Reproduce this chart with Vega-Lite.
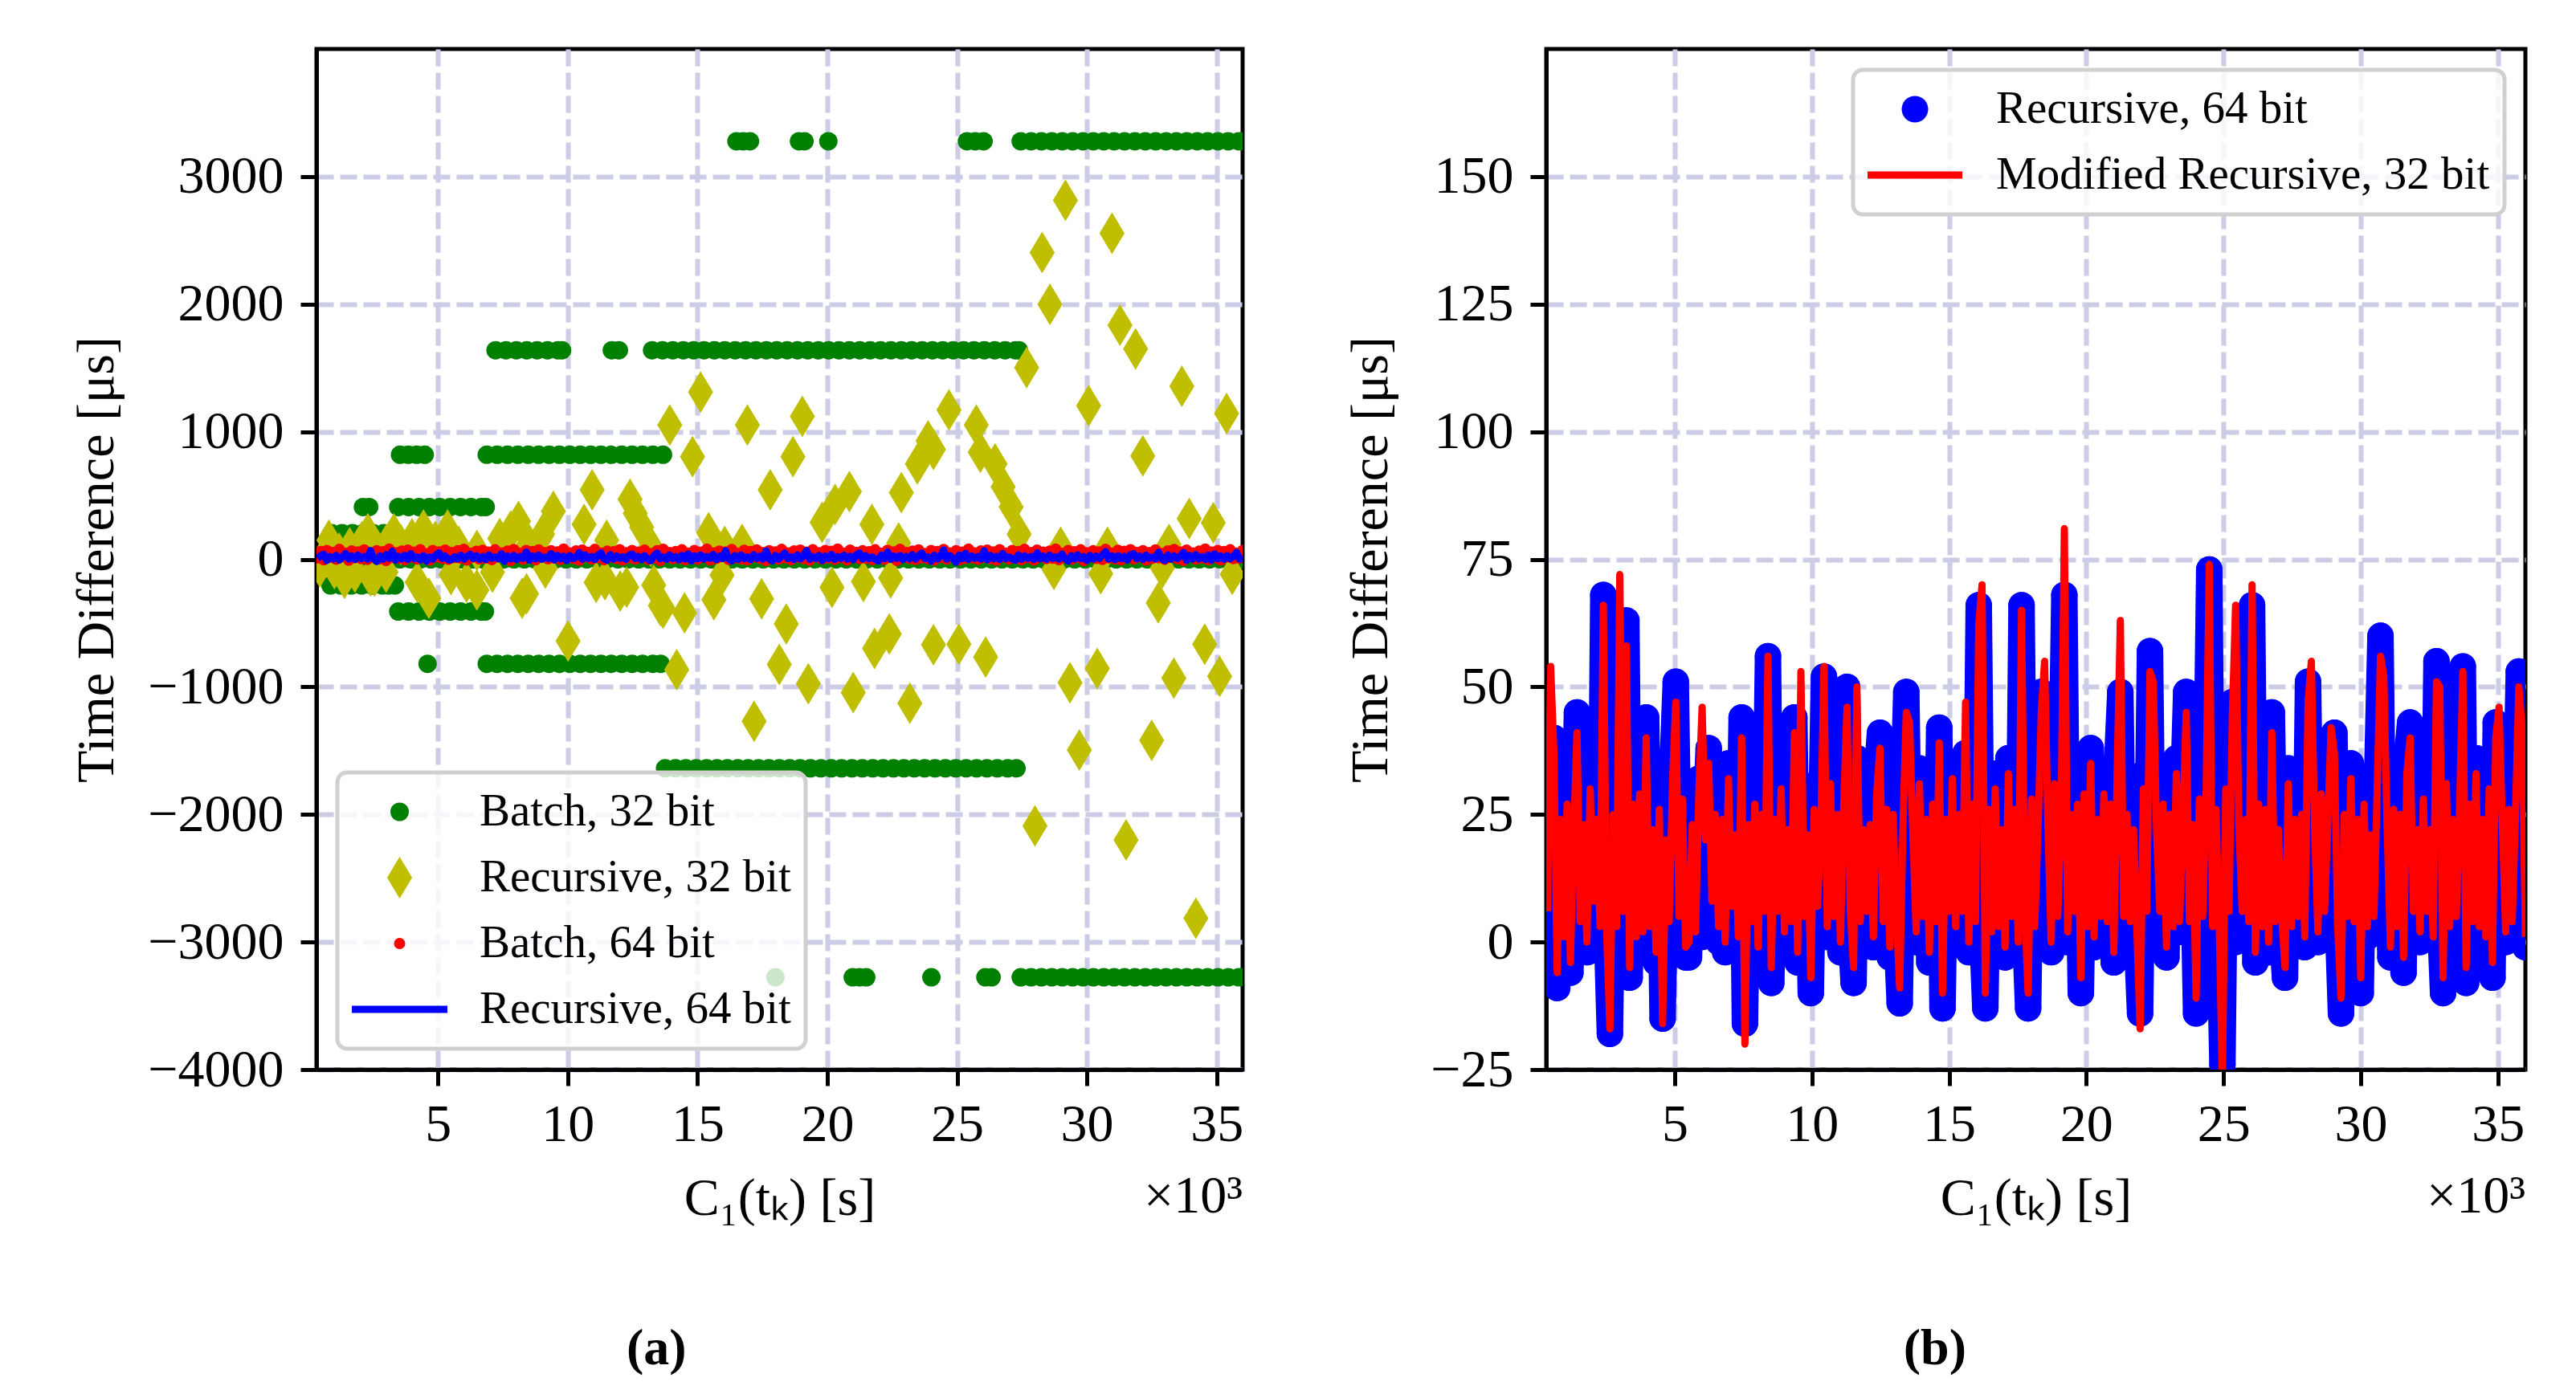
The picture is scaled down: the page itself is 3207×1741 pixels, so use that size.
{
"$schema": "https://vega.github.io/schema/vega-lite/v6.json",
"background": "white",
"padding": {"left": 84, "top": 58, "right": 20, "bottom": 20},
"spacing": 120,
"resolve": {"scale": {"color": "independent", "shape": "independent", "size": "independent"}, "legend": {"color": "independent", "shape": "independent", "size": "independent"}},
"config": {
  "font": "Liberation Serif",
  "view": {"stroke": "black", "strokeWidth": 5},
  "axis": {"labelFont": "Liberation Serif", "titleFont": "Liberation Serif", "labelFontSize": 66, "titleFontSize": 66, "titleFontWeight": "normal", "labelColor": "black", "titleColor": "black", "tickColor": "black", "tickWidth": 5, "tickSize": 20, "domain": true, "domainColor": "black", "domainWidth": 5, "grid": true, "gridColor": "#ccccE6", "gridDash": [21, 8], "gridWidth": 6, "labelFlush": false, "labelBound": false, "labelOverlap": false, "labelLimit": 0},
  "axisX": {"labelPadding": 16, "titlePadding": 27},
  "axisY": {"labelPadding": 21, "titlePadding": 40},
  "legend": {"labelFont": "Liberation Serif", "labelFontSize": 57, "labelColor": "black", "labelLimit": 0},
  "title": {"font": "Liberation Serif", "fontSize": 64, "fontWeight": "bold", "color": "black"}
},
"datasets": {
"g": [
{"x":16500,"y":3276.8},{"x":16760,"y":3276.8},{"x":17020,"y":3276.8},{"x":18910,"y":3276.8},{"x":19120,"y":3276.8},{"x":20040,"y":3276.8},{"x":25380,"y":3276.8},{"x":25700,"y":3276.8},{"x":26020,"y":3276.8},{"x":27450,"y":3276.8},{"x":27850,"y":3276.8},{"x":28250,"y":3276.8},{"x":28650,"y":3276.8},{"x":29050,"y":3276.8},{"x":29450,"y":3276.8},{"x":29850,"y":3276.8},{"x":30250,"y":3276.8},{"x":30650,"y":3276.8},{"x":31050,"y":3276.8},{"x":31450,"y":3276.8},{"x":31850,"y":3276.8},{"x":32250,"y":3276.8},{"x":32650,"y":3276.8},{"x":33050,"y":3276.8},{"x":33450,"y":3276.8},{"x":33850,"y":3276.8},{"x":34250,"y":3276.8},{"x":34650,"y":3276.8},{"x":35050,"y":3276.8},{"x":35450,"y":3276.8},{"x":35850,"y":3276.8},{"x":36000,"y":3276.8},
{"x":7220,"y":1638.4},{"x":7620,"y":1638.4},{"x":8020,"y":1638.4},{"x":8420,"y":1638.4},{"x":8820,"y":1638.4},{"x":9220,"y":1638.4},{"x":9620,"y":1638.4},{"x":9780,"y":1638.4},{"x":11700,"y":1638.4},{"x":11970,"y":1638.4},{"x":13250,"y":1638.4},{"x":13650,"y":1638.4},{"x":14050,"y":1638.4},{"x":14450,"y":1638.4},{"x":14850,"y":1638.4},{"x":15250,"y":1638.4},{"x":15650,"y":1638.4},{"x":16050,"y":1638.4},{"x":16450,"y":1638.4},{"x":16850,"y":1638.4},{"x":17250,"y":1638.4},{"x":17650,"y":1638.4},{"x":18050,"y":1638.4},{"x":18450,"y":1638.4},{"x":18850,"y":1638.4},{"x":19250,"y":1638.4},{"x":19650,"y":1638.4},{"x":20050,"y":1638.4},{"x":20450,"y":1638.4},{"x":20850,"y":1638.4},{"x":21250,"y":1638.4},{"x":21650,"y":1638.4},{"x":22050,"y":1638.4},{"x":22450,"y":1638.4},{"x":22850,"y":1638.4},{"x":23250,"y":1638.4},{"x":23650,"y":1638.4},{"x":24050,"y":1638.4},{"x":24450,"y":1638.4},{"x":24850,"y":1638.4},{"x":25250,"y":1638.4},{"x":25650,"y":1638.4},{"x":26050,"y":1638.4},{"x":26450,"y":1638.4},{"x":26850,"y":1638.4},{"x":27250,"y":1638.4},{"x":27380,"y":1638.4},
{"x":3540,"y":819.2},{"x":3860,"y":819.2},{"x":4180,"y":819.2},{"x":4490,"y":819.2},{"x":6880,"y":819.2},{"x":7280,"y":819.2},{"x":7680,"y":819.2},{"x":8080,"y":819.2},{"x":8480,"y":819.2},{"x":8880,"y":819.2},{"x":9280,"y":819.2},{"x":9680,"y":819.2},{"x":10080,"y":819.2},{"x":10480,"y":819.2},{"x":10880,"y":819.2},{"x":11280,"y":819.2},{"x":11680,"y":819.2},{"x":12080,"y":819.2},{"x":12480,"y":819.2},{"x":12880,"y":819.2},{"x":13280,"y":819.2},{"x":13670,"y":819.2},
{"x":2110,"y":409.6},{"x":2350,"y":409.6},{"x":3470,"y":409.6},{"x":3870,"y":409.6},{"x":4270,"y":409.6},{"x":4670,"y":409.6},{"x":5070,"y":409.6},{"x":5470,"y":409.6},{"x":5870,"y":409.6},{"x":6270,"y":409.6},{"x":6670,"y":409.6},{"x":6840,"y":409.6},
{"x":905,"y":204.8},{"x":1305,"y":204.8},{"x":1705,"y":204.8},{"x":2105,"y":204.8},{"x":2505,"y":204.8},{"x":2910,"y":204.8},
{"x":330,"y":0},{"x":730,"y":0},{"x":1130,"y":0},{"x":1530,"y":0},{"x":1930,"y":0},{"x":2330,"y":0},{"x":2730,"y":0},{"x":3130,"y":0},{"x":3530,"y":0},{"x":3930,"y":0},{"x":4330,"y":0},{"x":4730,"y":0},{"x":5130,"y":0},{"x":5530,"y":0},{"x":5930,"y":0},{"x":6330,"y":0},{"x":6730,"y":0},{"x":7130,"y":0},{"x":7530,"y":0},{"x":7930,"y":0},{"x":8330,"y":0},{"x":8730,"y":0},{"x":9130,"y":0},{"x":9530,"y":0},{"x":9930,"y":0},{"x":10330,"y":0},{"x":10730,"y":0},{"x":11130,"y":0},{"x":11530,"y":0},{"x":11930,"y":0},{"x":12330,"y":0},{"x":12730,"y":0},{"x":13130,"y":0},{"x":13530,"y":0},{"x":13930,"y":0},{"x":14330,"y":0},{"x":14730,"y":0},{"x":15130,"y":0},{"x":15530,"y":0},{"x":15930,"y":0},{"x":16330,"y":0},{"x":16730,"y":0},{"x":17130,"y":0},{"x":17530,"y":0},{"x":17930,"y":0},{"x":18330,"y":0},{"x":18730,"y":0},{"x":19130,"y":0},{"x":19530,"y":0},{"x":19930,"y":0},{"x":20330,"y":0},{"x":20730,"y":0},{"x":21130,"y":0},{"x":21530,"y":0},{"x":21930,"y":0},{"x":22330,"y":0},{"x":22730,"y":0},{"x":23130,"y":0},{"x":23530,"y":0},{"x":23930,"y":0},{"x":24330,"y":0},{"x":24730,"y":0},{"x":25130,"y":0},{"x":25530,"y":0},{"x":25930,"y":0},{"x":26330,"y":0},{"x":26730,"y":0},{"x":27130,"y":0},{"x":27530,"y":0},{"x":27930,"y":0},{"x":28330,"y":0},{"x":28730,"y":0},{"x":29130,"y":0},{"x":29530,"y":0},{"x":29930,"y":0},{"x":30330,"y":0},{"x":30730,"y":0},{"x":31130,"y":0},{"x":31530,"y":0},{"x":31930,"y":0},{"x":32330,"y":0},{"x":32730,"y":0},{"x":33130,"y":0},{"x":33530,"y":0},{"x":33930,"y":0},{"x":34330,"y":0},{"x":34730,"y":0},{"x":35130,"y":0},{"x":35530,"y":0},{"x":35930,"y":0},{"x":36000,"y":0},
{"x":860,"y":-204.8},{"x":1260,"y":-204.8},{"x":1660,"y":-204.8},{"x":2060,"y":-204.8},{"x":2460,"y":-204.8},{"x":2860,"y":-204.8},{"x":3100,"y":-204.8},{"x":3340,"y":-204.8},
{"x":3470,"y":-409.6},{"x":3870,"y":-409.6},{"x":4270,"y":-409.6},{"x":4670,"y":-409.6},{"x":5070,"y":-409.6},{"x":5470,"y":-409.6},{"x":5870,"y":-409.6},{"x":6270,"y":-409.6},{"x":6670,"y":-409.6},{"x":6810,"y":-409.6},
{"x":4600,"y":-819.2},{"x":6880,"y":-819.2},{"x":7280,"y":-819.2},{"x":7680,"y":-819.2},{"x":8080,"y":-819.2},{"x":8480,"y":-819.2},{"x":8880,"y":-819.2},{"x":9280,"y":-819.2},{"x":9680,"y":-819.2},{"x":10080,"y":-819.2},{"x":10480,"y":-819.2},{"x":10880,"y":-819.2},{"x":11280,"y":-819.2},{"x":11680,"y":-819.2},{"x":12080,"y":-819.2},{"x":12480,"y":-819.2},{"x":12880,"y":-819.2},{"x":13280,"y":-819.2},{"x":13580,"y":-819.2},
{"x":13750,"y":-1638.4},{"x":14150,"y":-1638.4},{"x":14550,"y":-1638.4},{"x":14950,"y":-1638.4},{"x":15350,"y":-1638.4},{"x":15750,"y":-1638.4},{"x":16150,"y":-1638.4},{"x":16550,"y":-1638.4},{"x":16950,"y":-1638.4},{"x":17350,"y":-1638.4},{"x":17750,"y":-1638.4},{"x":18150,"y":-1638.4},{"x":18550,"y":-1638.4},{"x":18950,"y":-1638.4},{"x":19350,"y":-1638.4},{"x":19750,"y":-1638.4},{"x":20150,"y":-1638.4},{"x":20550,"y":-1638.4},{"x":20950,"y":-1638.4},{"x":21350,"y":-1638.4},{"x":21750,"y":-1638.4},{"x":22150,"y":-1638.4},{"x":22550,"y":-1638.4},{"x":22950,"y":-1638.4},{"x":23350,"y":-1638.4},{"x":23750,"y":-1638.4},{"x":24150,"y":-1638.4},{"x":24550,"y":-1638.4},{"x":24950,"y":-1638.4},{"x":25350,"y":-1638.4},{"x":25750,"y":-1638.4},{"x":26150,"y":-1638.4},{"x":26550,"y":-1638.4},{"x":26950,"y":-1638.4},{"x":27290,"y":-1638.4},
{"x":18000,"y":-3276.8},{"x":20980,"y":-3276.8},{"x":21240,"y":-3276.8},{"x":21500,"y":-3276.8},{"x":24010,"y":-3276.8},{"x":26090,"y":-3276.8},{"x":26330,"y":-3276.8},{"x":27450,"y":-3276.8},{"x":27850,"y":-3276.8},{"x":28250,"y":-3276.8},{"x":28650,"y":-3276.8},{"x":29050,"y":-3276.8},{"x":29450,"y":-3276.8},{"x":29850,"y":-3276.8},{"x":30250,"y":-3276.8},{"x":30650,"y":-3276.8},{"x":31050,"y":-3276.8},{"x":31450,"y":-3276.8},{"x":31850,"y":-3276.8},{"x":32250,"y":-3276.8},{"x":32650,"y":-3276.8},{"x":33050,"y":-3276.8},{"x":33450,"y":-3276.8},{"x":33850,"y":-3276.8},{"x":34250,"y":-3276.8},{"x":34650,"y":-3276.8},{"x":35050,"y":-3276.8},{"x":35450,"y":-3276.8},{"x":35850,"y":-3276.8},{"x":36000,"y":-3276.8}
],
"d": [
{"x":600,"y":20},{"x":450,"y":-60},{"x":800,"y":150},{"x":1010,"y":-74},{"x":1194,"y":49},{"x":1400,"y":-150},{"x":1600,"y":90},{"x":1800,"y":-100},{"x":2070,"y":139},{"x":2300,"y":200},{"x":2400,"y":-130},{"x":2556,"y":-132},{"x":2700,"y":60},{"x":2741,"y":-44},{"x":3000,"y":110},{"x":3000,"y":-100},{"x":3300,"y":200},{"x":3567,"y":117},{"x":4000,"y":160},{"x":4200,"y":-180},{"x":4443,"y":230},{"x":4650,"y":-305},{"x":4900,"y":140},{"x":5371,"y":230},{"x":5500,"y":-120},{"x":5800,"y":100},{"x":6100,"y":-180},{"x":6500,"y":-240},{"x":6500,"y":70},{"x":7100,"y":-100},{"x":7382,"y":162},{"x":7800,"y":220},{"x":8104,"y":297},{"x":8242,"y":-305},{"x":8413,"y":-271},{"x":8500,"y":120},{"x":9032,"y":196},{"x":9136,"y":-69},{"x":9446,"y":376},{"x":10012,"y":-640},{"x":10630,"y":274},{"x":10940,"y":545},{"x":11095,"y":-181},{"x":11435,"y":-161},{"x":11500,"y":150},{"x":12023,"y":-248},{"x":12271,"y":-218},{"x":12400,"y":470},{"x":12600,"y":360},{"x":12849,"y":252},{"x":13200,"y":100},{"x":13313,"y":-203},{"x":13570,"y":-363},{"x":13673,"y":-384},{"x":13932,"y":1052},{"x":14200,"y":-865},{"x":14500,"y":-420},{"x":14808,"y":804},{"x":15117,"y":1311},{"x":15427,"y":207},{"x":15630,"y":-318},{"x":15943,"y":-124},{"x":16046,"y":100},{"x":16716,"y":117},{"x":16921,"y":1052},{"x":17180,"y":-1270},{"x":17470,"y":-310},{"x":17800,"y":545},{"x":18150,"y":-825},{"x":18418,"y":-507},{"x":18676,"y":804},{"x":19038,"y":1120},{"x":19270,"y":-975},{"x":19800,"y":290},{"x":20180,"y":-220},{"x":20300,"y":430},{"x":20850,"y":530},{"x":21000,"y":-1045},{"x":21390,"y":-175},{"x":21717,"y":274},{"x":21820,"y":-699},{"x":22388,"y":-586},{"x":22440,"y":-147},{"x":22749,"y":128},{"x":22852,"y":522},{"x":23180,"y":-1128},{"x":23471,"y":748},{"x":23883,"y":928},{"x":24090,"y":-670},{"x":24090,"y":861},{"x":24687,"y":1171},{"x":25070,"y":-665},{"x":25740,"y":1052},{"x":25894,"y":838},{"x":26100,"y":-766},{"x":26463,"y":748},{"x":26772,"y":568},{"x":27082,"y":410},{"x":27391,"y":196},{"x":27679,"y":1502},{"x":28000,"y":-2090},{"x":28277,"y":2404},{"x":28577,"y":1998},{"x":28730,"y":-79},{"x":28990,"y":95},{"x":29174,"y":2814},{"x":29350,"y":-968},{"x":29710,"y":-1495},{"x":30070,"y":1203},{"x":30400,"y":-856},{"x":30535,"y":-113},{"x":30795,"y":95},{"x":30968,"y":2555},{"x":31277,"y":1834},{"x":31510,"y":-2200},{"x":31877,"y":1649},{"x":32155,"y":811},{"x":32497,"y":-1420},{"x":32750,"y":-342},{"x":32908,"y":-68},{"x":33165,"y":117},{"x":33350,"y":-931},{"x":33660,"y":1357},{"x":33942,"y":320},{"x":34200,"y":-2813},{"x":34540,"y":-665},{"x":34870,"y":286},{"x":35115,"y":-918},{"x":35383,"y":1143},{"x":35600,"y":-118}
],
"ts": [
{"x":360,"b":5,"r":6,"c":10},{"x":480,"b":28,"r":54,"c":62},{"x":600,"b":40,"r":37,"c":-5},{"x":720,"b":-9,"r":-6,"c":70},{"x":840,"b":22,"r":24,"c":15},{"x":960,"b":3,"r":1,"c":55},{"x":1080,"b":30,"r":27,"c":0},{"x":1200,"b":-6,"r":-4,"c":78},{"x":1320,"b":18,"r":21,"c":20},{"x":1440,"b":45,"r":41,"c":48},
{"x":1560,"b":2,"r":4,"c":-8},{"x":1680,"b":26,"r":23,"c":66},{"x":1800,"b":-2,"r":0,"c":12},{"x":1920,"b":33,"r":30,"c":58},{"x":2040,"b":6,"r":8,"c":5},{"x":2160,"b":21,"r":24,"c":74},{"x":2280,"b":1,"r":3,"c":-2},{"x":2400,"b":68,"r":66,"c":50},{"x":2520,"b":4,"r":2,"c":18},{"x":2640,"b":-18,"r":-17,"c":68},
{"x":2760,"b":27,"r":25,"c":3},{"x":2880,"b":0,"r":3,"c":60},{"x":3000,"b":36,"r":72,"c":-10},{"x":3120,"b":8,"r":6,"c":80},{"x":3240,"b":63,"r":58,"c":14},{"x":3360,"b":-7,"r":-5,"c":52},{"x":3480,"b":24,"r":27,"c":7},{"x":3600,"b":3,"r":1,"c":64},{"x":3720,"b":31,"r":29,"c":-4},{"x":3840,"b":-1,"r":2,"c":72},
{"x":3960,"b":44,"r":40,"c":16},{"x":4080,"b":5,"r":3,"c":56},{"x":4200,"b":19,"r":22,"c":1},{"x":4320,"b":-4,"r":-2,"c":76},{"x":4440,"b":29,"r":26,"c":11},{"x":4560,"b":-15,"r":-16,"c":46},{"x":4680,"b":17,"r":20,"c":-6},{"x":4800,"b":2,"r":4,"c":69},{"x":4920,"b":34,"r":31,"c":19},{"x":5040,"b":51,"r":47,"c":59},
{"x":5160,"b":7,"r":5,"c":4},{"x":5280,"b":25,"r":28,"c":73},{"x":5400,"b":-3,"r":-1,"c":-1},{"x":5520,"b":-3,"r":0,"c":53},{"x":5640,"b":20,"r":23,"c":13},{"x":5760,"b":4,"r":2,"c":67},{"x":5880,"b":32,"r":29,"c":8},{"x":6000,"b":1,"r":46,"c":79},{"x":6120,"b":23,"r":20,"c":-7},{"x":6240,"b":38,"r":35,"c":49},
{"x":6360,"b":6,"r":8,"c":17},{"x":6480,"b":28,"r":25,"c":63},{"x":6600,"b":0,"r":3,"c":2},{"x":6720,"b":21,"r":24,"c":71},{"x":6840,"b":-2,"r":0,"c":9},{"x":6960,"b":35,"r":32,"c":57},{"x":7080,"b":9,"r":7,"c":-3},{"x":7200,"b":18,"r":21,"c":75},{"x":7320,"b":3,"r":1,"c":21},{"x":7440,"b":44,"r":40,"c":51},
{"x":7560,"b":-16,"r":-20,"c":6},{"x":7680,"b":26,"r":23,"c":65},{"x":7800,"b":2,"r":4,"c":-9},{"x":7920,"b":30,"r":27,"c":77},{"x":8040,"b":-3,"r":-1,"c":15},{"x":8160,"b":22,"r":25,"c":47},{"x":8280,"b":8,"r":6,"c":0},{"x":8400,"b":56,"r":56,"c":70},{"x":8520,"b":-8,"r":-5,"c":12},{"x":8640,"b":27,"r":24,"c":61},
{"x":8760,"b":4,"r":6,"c":-5},{"x":8880,"b":33,"r":30,"c":74},{"x":9000,"b":0,"r":2,"c":18},{"x":9120,"b":19,"r":22,"c":54},{"x":9240,"b":6,"r":4,"c":3},{"x":9360,"b":44,"r":41,"c":68},{"x":9480,"b":-4,"r":-2,"c":10},{"x":9600,"b":31,"r":53,"c":58},{"x":9720,"b":3,"r":5,"c":-2},{"x":9840,"b":24,"r":21,"c":81},
{"x":9960,"b":-10,"r":-7,"c":14},{"x":10080,"b":29,"r":26,"c":50},{"x":10200,"b":5,"r":7,"c":7},{"x":10320,"b":17,"r":20,"c":66},{"x":10440,"b":52,"r":54,"c":-8},{"x":10560,"b":1,"r":3,"c":72},{"x":10680,"b":34,"r":31,"c":20},{"x":10800,"b":7,"r":5,"c":55},{"x":10920,"b":22,"r":25,"c":1},{"x":11040,"b":-2,"r":0,"c":78},
{"x":11160,"b":30,"r":27,"c":11},{"x":11280,"b":50,"r":46,"c":48},{"x":11400,"b":4,"r":6,"c":-4},{"x":11520,"b":-8,"r":-5,"c":64},{"x":11640,"b":36,"r":50,"c":16},{"x":11760,"b":2,"r":4,"c":60},{"x":11880,"b":25,"r":22,"c":5},{"x":12000,"b":8,"r":6,"c":76},{"x":12120,"b":20,"r":23,"c":-6},{"x":12240,"b":-1,"r":1,"c":52},
{"x":12360,"b":32,"r":29,"c":13},{"x":12480,"b":41,"r":38,"c":69},{"x":12600,"b":6,"r":4,"c":2},{"x":12720,"b":23,"r":26,"c":57},{"x":12840,"b":-3,"r":-1,"c":19},{"x":12960,"b":28,"r":25,"c":73},{"x":13080,"b":3,"r":5,"c":-1},{"x":13200,"b":-12,"r":-9,"c":46},{"x":13320,"b":26,"r":23,"c":9},{"x":13440,"b":49,"r":45,"c":67},
{"x":13560,"b":5,"r":43,"c":-10},{"x":13680,"b":18,"r":21,"c":79},{"x":13800,"b":0,"r":2,"c":17},{"x":13920,"b":34,"r":31,"c":53},{"x":14040,"b":7,"r":5,"c":4},{"x":14160,"b":21,"r":24,"c":62},{"x":14280,"b":-4,"r":-2,"c":8},{"x":14400,"b":30,"r":27,"c":75},{"x":14520,"b":2,"r":4,"c":-3},{"x":14640,"b":42,"r":39,"c":49},
{"x":14760,"b":-13,"r":-10,"c":12},{"x":14880,"b":27,"r":24,"c":70},{"x":15000,"b":4,"r":6,"c":0},{"x":15120,"b":35,"r":32,"c":56},{"x":15240,"b":1,"r":3,"c":15},{"x":15360,"b":22,"r":25,"c":80},{"x":15480,"b":8,"r":6,"c":-7},{"x":15600,"b":37,"r":47,"c":51},{"x":15720,"b":-2,"r":0,"c":6},{"x":15840,"b":24,"r":27,"c":65},
{"x":15960,"b":6,"r":4,"c":21},{"x":16080,"b":66,"r":62,"c":58},{"x":16200,"b":3,"r":70,"c":-2},{"x":16320,"b":-13,"r":-10,"c":77},{"x":16440,"b":29,"r":26,"c":10},{"x":16560,"b":0,"r":2,"c":47},{"x":16680,"b":33,"r":30,"c":3},{"x":16800,"b":5,"r":3,"c":71},{"x":16920,"b":19,"r":22,"c":-5},{"x":17040,"b":-3,"r":-1,"c":61},
{"x":17160,"b":36,"r":33,"c":18},{"x":17280,"b":7,"r":5,"c":74},{"x":17400,"b":23,"r":26,"c":7},{"x":17520,"b":2,"r":0,"c":54},{"x":17640,"b":66,"r":65,"c":-9},{"x":17760,"b":4,"r":6,"c":68},{"x":17880,"b":-13,"r":-10,"c":14},{"x":18000,"b":31,"r":28,"c":59},{"x":18120,"b":1,"r":3,"c":1},{"x":18240,"b":25,"r":22,"c":78},
{"x":18360,"b":49,"r":45,"c":11},{"x":18480,"b":6,"r":55,"c":50},{"x":18600,"b":20,"r":23,"c":-4},{"x":18720,"b":-2,"r":0,"c":66},{"x":18840,"b":34,"r":31,"c":16},{"x":18960,"b":3,"r":5,"c":72},{"x":19080,"b":27,"r":24,"c":5},{"x":19200,"b":68,"r":81,"c":57},{"x":19320,"b":0,"r":2,"c":-8},{"x":19440,"b":22,"r":25,"c":76},
{"x":19560,"b":8,"r":6,"c":20},{"x":19680,"b":30,"r":27,"c":52},{"x":19800,"b":-10,"r":-7,"c":2},{"x":19920,"b":26,"r":29,"c":69},{"x":20040,"b":5,"r":3,"c":9},{"x":20160,"b":38,"r":35,"c":63},{"x":20280,"b":-1,"r":1,"c":-1},{"x":20400,"b":21,"r":24,"c":80},{"x":20520,"b":7,"r":5,"c":13},{"x":20640,"b":32,"r":29,"c":48},
{"x":20760,"b":2,"r":4,"c":-6},{"x":20880,"b":24,"r":27,"c":73},{"x":21000,"b":-4,"r":-2,"c":17},{"x":21120,"b":35,"r":32,"c":55},{"x":21240,"b":49,"r":63,"c":4},{"x":21360,"b":3,"r":5,"c":67},{"x":21480,"b":28,"r":25,"c":8},{"x":21600,"b":6,"r":4,"c":60},{"x":21720,"b":19,"r":22,"c":-3},{"x":21840,"b":1,"r":3,"c":75},
{"x":21960,"b":-14,"r":-17,"c":12},{"x":22080,"b":33,"r":30,"c":49},{"x":22200,"b":4,"r":6,"c":0},{"x":22320,"b":57,"r":53,"c":71},{"x":22440,"b":0,"r":51,"c":15},{"x":22560,"b":25,"r":22,"c":58},{"x":22680,"b":8,"r":6,"c":-10},{"x":22800,"b":30,"r":27,"c":79},{"x":22920,"b":-3,"r":-1,"c":19},{"x":23040,"b":22,"r":25,"c":53},
{"x":23160,"b":5,"r":3,"c":6},{"x":23280,"b":36,"r":33,"c":64},{"x":23400,"b":2,"r":4,"c":-2},{"x":23520,"b":27,"r":24,"c":74},{"x":23640,"b":49,"r":45,"c":10},{"x":23760,"b":6,"r":4,"c":46},{"x":23880,"b":20,"r":23,"c":3},{"x":24000,"b":-14,"r":-11,"c":70},{"x":24120,"b":31,"r":28,"c":-7},{"x":24240,"b":3,"r":5,"c":62},
{"x":24360,"b":24,"r":27,"c":14},{"x":24480,"b":73,"r":74,"c":77},{"x":24600,"b":1,"r":3,"c":1},{"x":24720,"b":29,"r":26,"c":51},{"x":24840,"b":7,"r":5,"c":18},{"x":24960,"b":-24,"r":-28,"c":68},{"x":25080,"b":33,"r":30,"c":-5},{"x":25200,"b":4,"r":6,"c":56},{"x":25320,"b":47,"r":44,"c":7},{"x":25440,"b":0,"r":66,"c":81},
{"x":25560,"b":26,"r":23,"c":11},{"x":25680,"b":8,"r":6,"c":50},{"x":25800,"b":21,"r":24,"c":-1},{"x":25920,"b":2,"r":4,"c":66},{"x":26040,"b":66,"r":70,"c":16},{"x":26160,"b":-4,"r":-2,"c":73},{"x":26280,"b":30,"r":27,"c":5},{"x":26400,"b":5,"r":3,"c":59},{"x":26520,"b":23,"r":26,"c":-8},{"x":26640,"b":-2,"r":0,"c":76},
{"x":26760,"b":45,"r":41,"c":20},{"x":26880,"b":6,"r":4,"c":48},{"x":27000,"b":19,"r":22,"c":2},{"x":27120,"b":3,"r":5,"c":69},{"x":27240,"b":-7,"r":-5,"c":9},{"x":27360,"b":34,"r":31,"c":61},{"x":27480,"b":1,"r":3,"c":-4},{"x":27600,"b":27,"r":24,"c":78},{"x":27720,"b":7,"r":5,"c":13},{"x":27840,"b":22,"r":25,"c":54},
{"x":27960,"b":-1,"r":1,"c":-6},{"x":28080,"b":51,"r":47,"c":72},{"x":28200,"b":4,"r":55,"c":17},{"x":28320,"b":25,"r":22,"c":57},{"x":28440,"b":0,"r":2,"c":4},{"x":28560,"b":32,"r":29,"c":65},{"x":28680,"b":8,"r":6,"c":8},{"x":28800,"b":20,"r":23,"c":80},{"x":28920,"b":2,"r":42,"c":-3},{"x":29040,"b":41,"r":37,"c":47},
{"x":29160,"b":5,"r":3,"c":12},{"x":29280,"b":-14,"r":-11,"c":70},{"x":29400,"b":28,"r":25,"c":0},{"x":29520,"b":3,"r":5,"c":60},{"x":29640,"b":35,"r":32,"c":15},{"x":29760,"b":6,"r":4,"c":75},{"x":29880,"b":21,"r":24,"c":-9},{"x":30000,"b":-10,"r":-7,"c":52},{"x":30120,"b":30,"r":27,"c":19},{"x":30240,"b":1,"r":3,"c":67},
{"x":30360,"b":24,"r":21,"c":6},{"x":30480,"b":7,"r":5,"c":58},{"x":30600,"b":33,"r":30,"c":-2},{"x":30720,"b":60,"r":56,"c":79},{"x":30840,"b":2,"r":52,"c":10},{"x":30960,"b":26,"r":23,"c":49},{"x":31080,"b":-3,"r":-1,"c":3},{"x":31200,"b":29,"r":26,"c":71},{"x":31320,"b":5,"r":3,"c":-5},{"x":31440,"b":22,"r":25,"c":63},
{"x":31560,"b":-6,"r":-3,"c":14},{"x":31680,"b":36,"r":33,"c":76},{"x":31800,"b":43,"r":40,"c":1},{"x":31920,"b":4,"r":6,"c":55},{"x":32040,"b":25,"r":22,"c":18},{"x":32160,"b":0,"r":2,"c":68},{"x":32280,"b":31,"r":28,"c":-7},{"x":32400,"b":8,"r":6,"c":53},{"x":32520,"b":19,"r":22,"c":7},{"x":32640,"b":3,"r":1,"c":74},
{"x":32760,"b":55,"r":51,"c":11},{"x":32880,"b":6,"r":50,"c":46},{"x":33000,"b":-10,"r":-7,"c":-1},{"x":33120,"b":34,"r":31,"c":66},{"x":33240,"b":1,"r":3,"c":16},{"x":33360,"b":27,"r":24,"c":77},{"x":33480,"b":7,"r":5,"c":5},{"x":33600,"b":23,"r":26,"c":59},{"x":33720,"b":54,"r":53,"c":-10},{"x":33840,"b":-8,"r":-5,"c":72},
{"x":33960,"b":30,"r":27,"c":20},{"x":34080,"b":2,"r":4,"c":50},{"x":34200,"b":36,"r":33,"c":2},{"x":34320,"b":5,"r":3,"c":64},{"x":34440,"b":21,"r":24,"c":9},{"x":34560,"b":-1,"r":1,"c":80},{"x":34680,"b":33,"r":30,"c":-4},{"x":34800,"b":-7,"r":-4,"c":56},{"x":34920,"b":43,"r":40,"c":13},{"x":35040,"b":4,"r":46,"c":69},
{"x":35160,"b":26,"r":23,"c":-6},{"x":35280,"b":0,"r":2,"c":61},{"x":35400,"b":29,"r":26,"c":17},{"x":35520,"b":6,"r":4,"c":75},{"x":35640,"b":22,"r":25,"c":4},{"x":35760,"b":53,"r":50,"c":48},{"x":35880,"b":3,"r":42,"c":8},{"x":36000,"b":-1,"r":1,"c":70}
]
},
"hconcat": [
{
  "width": 1153, "height": 1271,
  "title": {"text": "(a)", "orient": "bottom", "anchor": "middle", "frame": "bounds", "offset": 123},
  "layer": [
    {"data": {"name": "g"},
     "mark": {"type": "point", "filled": true, "opacity": 1, "strokeWidth": 0, "clip": true},
     "encoding": {
       "x": {"field": "x", "type": "quantitative", "title": "C₁(tₖ) [s]", "scale": {"domain": [320, 36000], "nice": false, "zero": false}, "axis": {"values": [5000, 10000, 15000, 20000, 25000, 30000, 35000], "labelExpr": "datum.value / 1000"}},
       "y": {"field": "y", "type": "quantitative", "title": "Time Difference [μs]", "scale": {"domain": [-4000, 4000], "nice": false, "zero": false}, "axis": {"values": [-4000, -3000, -2000, -1000, 0, 1000, 2000, 3000], "format": "d"}},
       "color": {"datum": "Batch, 32 bit", "type": "nominal",
         "scale": {"domain": ["Batch, 32 bit", "Recursive, 32 bit", "Batch, 64 bit", "Recursive, 64 bit"], "range": ["#008000", "#bfbf00", "#ff0000", "#0000ff"]},
         "legend": {"title": null, "orient": "bottom-left", "offset": 26, "clipHeight": 62, "rowPadding": 20, "labelOffset": 40, "padding": 18, "fillColor": "rgba(255,255,255,0.8)", "strokeColor": "#d0d0d0", "cornerRadius": 12, "symbolOpacity": 1, "symbolStrokeWidth": 0, "encode": {"legend": {"update": {"strokeWidth": {"value": 5}}}}}},
       "shape": {"datum": "Batch, 32 bit", "type": "nominal",
         "scale": {"domain": ["Batch, 32 bit", "Recursive, 32 bit", "Batch, 64 bit", "Recursive, 64 bit"], "range": ["circle", "M0,-1L0.6,0L0,1L-0.6,0Z", "circle", "M-1,-0.076L1,-0.076L1,0.076L-1,0.076Z"]},
         "legend": {"title": null, "orient": "bottom-left", "offset": 26, "clipHeight": 62, "rowPadding": 20, "labelOffset": 40, "padding": 18, "fillColor": "rgba(255,255,255,0.8)", "strokeColor": "#d0d0d0", "cornerRadius": 12, "symbolOpacity": 1, "symbolStrokeWidth": 0, "encode": {"legend": {"update": {"strokeWidth": {"value": 5}}}}}},
       "size": {"datum": "Batch, 32 bit", "type": "nominal",
         "scale": {"type": "ordinal", "domain": ["Batch, 32 bit", "Recursive, 32 bit", "Batch, 64 bit", "Recursive, 64 bit"], "range": [529, 2704, 196, 14161]},
         "legend": {"title": null, "orient": "bottom-left", "offset": 26, "clipHeight": 62, "rowPadding": 20, "labelOffset": 40, "padding": 18, "fillColor": "rgba(255,255,255,0.8)", "strokeColor": "#d0d0d0", "cornerRadius": 12, "symbolOpacity": 1, "symbolStrokeWidth": 0, "encode": {"legend": {"update": {"strokeWidth": {"value": 5}}}}}}
     }},
    {"data": {"name": "d"},
     "mark": {"type": "point", "filled": true, "opacity": 1, "strokeWidth": 0, "clip": true, "color": "#bfbf00", "shape": "M0,-1L0.6,0L0,1L-0.6,0Z", "size": 2704},
     "encoding": {
       "x": {"field": "x", "type": "quantitative", "title": "C₁(tₖ) [s]"},
       "y": {"field": "y", "type": "quantitative", "title": "Time Difference [μs]"}
     }},
    {"data": {"name": "ts"},
     "mark": {"type": "point", "filled": true, "opacity": 1, "strokeWidth": 0, "clip": true, "color": "#ff0000", "shape": "circle", "size": 196},
     "encoding": {
       "x": {"field": "x", "type": "quantitative", "title": "C₁(tₖ) [s]"},
       "y": {"field": "c", "type": "quantitative", "title": "Time Difference [μs]"}
     }},
    {"data": {"name": "ts"},
     "mark": {"type": "line", "color": "#0000ff", "strokeWidth": 9, "strokeJoin": "round", "clip": true},
     "encoding": {
       "x": {"field": "x", "type": "quantitative", "title": "C₁(tₖ) [s]"},
       "y": {"field": "b", "type": "quantitative", "title": "Time Difference [μs]"}
     }},
    {"data": {"values": [{"t": "×10³"}]},
     "mark": {"type": "text", "align": "right", "baseline": "alphabetic", "dy": 178, "fontSize": 66, "font": "Liberation Serif", "color": "black"},
     "encoding": {
       "x": {"datum": 36000, "type": "quantitative", "title": "C₁(tₖ) [s]"},
       "y": {"datum": -4000, "type": "quantitative", "title": "Time Difference [μs]"},
       "text": {"field": "t"}
     }}
  ]
},
{
  "width": 1219, "height": 1271,
  "title": {"text": "(b)", "orient": "bottom", "anchor": "middle", "frame": "bounds", "offset": 123},
  "layer": [
    {"data": {"name": "ts"},
     "mark": {"type": "line", "color": "#0000ff", "strokeWidth": 33, "strokeJoin": "round", "strokeCap": "round", "clip": true},
     "encoding": {
       "x": {"field": "x", "type": "quantitative", "title": "C₁(tₖ) [s]", "scale": {"domain": [320, 36000], "nice": false, "zero": false}, "axis": {"values": [5000, 10000, 15000, 20000, 25000, 30000, 35000], "labelExpr": "datum.value / 1000"}},
       "y": {"field": "b", "type": "quantitative", "title": "Time Difference [μs]", "scale": {"domain": [-25, 175], "nice": false, "zero": false}, "axis": {"values": [-25, 0, 25, 50, 75, 100, 125, 150], "format": "d"}}
     }},
    {"data": {"name": "ts"},
     "mark": {"type": "point", "filled": true, "opacity": 1, "strokeWidth": 0, "clip": true},
     "encoding": {
       "x": {"field": "x", "type": "quantitative", "title": "C₁(tₖ) [s]"},
       "y": {"field": "b", "type": "quantitative", "title": "Time Difference [μs]"},
       "color": {"datum": "Recursive, 64 bit", "type": "nominal",
         "scale": {"domain": ["Recursive, 64 bit", "Modified Recursive, 32 bit"], "range": ["#0000ff", "#ff0000"]},
         "legend": {"title": null, "orient": "top-right", "offset": 26, "clipHeight": 62, "rowPadding": 20, "labelOffset": 42, "padding": 18, "fillColor": "rgba(255,255,255,0.8)", "strokeColor": "#d0d0d0", "cornerRadius": 12, "symbolOpacity": 1, "symbolStrokeWidth": 0, "encode": {"legend": {"update": {"strokeWidth": {"value": 5}}}}}},
       "shape": {"datum": "Recursive, 64 bit", "type": "nominal",
         "scale": {"domain": ["Recursive, 64 bit", "Modified Recursive, 32 bit"], "range": ["circle", "M-1,-0.076L1,-0.076L1,0.076L-1,0.076Z"]},
         "legend": {"title": null, "orient": "top-right", "offset": 26, "clipHeight": 62, "rowPadding": 20, "labelOffset": 42, "padding": 18, "fillColor": "rgba(255,255,255,0.8)", "strokeColor": "#d0d0d0", "cornerRadius": 12, "symbolOpacity": 1, "symbolStrokeWidth": 0, "encode": {"legend": {"update": {"strokeWidth": {"value": 5}}}}}},
       "size": {"datum": "Recursive, 64 bit", "type": "nominal",
         "scale": {"type": "ordinal", "domain": ["Recursive, 64 bit", "Modified Recursive, 32 bit"], "range": [1089, 13924]},
         "legend": {"title": null, "orient": "top-right", "offset": 26, "clipHeight": 62, "rowPadding": 20, "labelOffset": 42, "padding": 18, "fillColor": "rgba(255,255,255,0.8)", "strokeColor": "#d0d0d0", "cornerRadius": 12, "symbolOpacity": 1, "symbolStrokeWidth": 0, "encode": {"legend": {"update": {"strokeWidth": {"value": 5}}}}}}
     }},
    {"data": {"name": "ts"},
     "mark": {"type": "line", "color": "#ff0000", "strokeWidth": 9, "strokeJoin": "round", "clip": true},
     "encoding": {
       "x": {"field": "x", "type": "quantitative", "title": "C₁(tₖ) [s]"},
       "y": {"field": "r", "type": "quantitative", "title": "Time Difference [μs]"}
     }},
    {"data": {"values": [{"t": "×10³"}]},
     "mark": {"type": "text", "align": "right", "baseline": "alphabetic", "dy": 178, "fontSize": 66, "font": "Liberation Serif", "color": "black"},
     "encoding": {
       "x": {"datum": 36000, "type": "quantitative", "title": "C₁(tₖ) [s]"},
       "y": {"datum": -25, "type": "quantitative", "title": "Time Difference [μs]"},
       "text": {"field": "t"}
     }}
  ]
}
]
}
